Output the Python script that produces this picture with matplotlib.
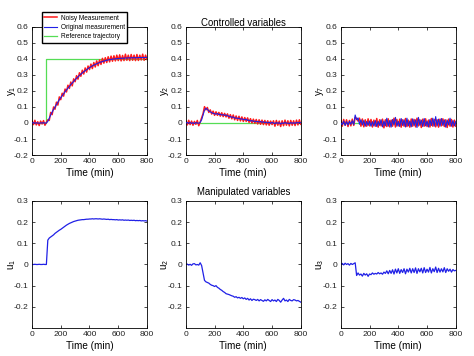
import numpy as np
import matplotlib
matplotlib.use('Agg')
import matplotlib.pyplot as plt

plt.rcParams['font.family'] = ['Liberation Sans', 'DejaVu Sans']
plt.rcParams['mathtext.default'] = 'regular'

# time axis, sampled every 10 min
t = np.arange(0, 801, 10)

# reference trajectories
ref_t = [0, 100, 100, 800]
ref_y1 = [0, 0, 0.4, 0.4]
ref_y2 = [0, 0, 0, 0]
ref_y7 = [0, 0, 0, 0]

# controlled variables: original measurement
y1_orig = [0.0, 0.002, -0.001, 0.001, 0.0, -0.002, 0.001, 0.0, 0.002, -0.001, 0.0,
           0.01, 0.03, 0.05, 0.068, 0.085, 0.10, 0.115, 0.13, 0.145, 0.158,
           0.17, 0.183, 0.195, 0.207, 0.218, 0.228, 0.24, 0.25, 0.26, 0.27,
           0.28, 0.288, 0.297, 0.305, 0.313, 0.32, 0.327, 0.333, 0.34, 0.346,
           0.351, 0.357, 0.362, 0.366, 0.37, 0.374, 0.378, 0.381, 0.384, 0.387,
           0.389, 0.392, 0.394, 0.396, 0.397, 0.399, 0.40, 0.401, 0.402, 0.403,
           0.404, 0.404, 0.405, 0.405, 0.406, 0.406, 0.407, 0.407, 0.407, 0.408,
           0.408, 0.408, 0.408, 0.409, 0.409, 0.409, 0.409, 0.409, 0.41, 0.41]
y1_noisy = [0.014, -0.01, 0.017, -0.012, 0.008, -0.016, 0.012, -0.006, 0.015, -0.014, 0.004,
            0.02, 0.016, 0.066, 0.052, 0.1, 0.086, 0.13, 0.112, 0.163, 0.146,
            0.186, 0.168, 0.212, 0.194, 0.236, 0.216, 0.256, 0.232, 0.276, 0.258,
            0.296, 0.274, 0.314, 0.292, 0.33, 0.306, 0.344, 0.318, 0.356, 0.334,
            0.368, 0.34, 0.378, 0.35, 0.388, 0.358, 0.394, 0.366, 0.404, 0.374,
            0.408, 0.378, 0.414, 0.382, 0.418, 0.386, 0.42, 0.388, 0.424, 0.39,
            0.426, 0.388, 0.422, 0.39, 0.43, 0.392, 0.424, 0.39, 0.428, 0.392,
            0.424, 0.39, 0.428, 0.391, 0.424, 0.394, 0.43, 0.392, 0.424, 0.398]

y2_orig = [0.0, 0.003, -0.002, 0.004, -0.003, 0.002, -0.004, 0.003, 0.0, -0.002, 0.004,
           0.02, 0.05, 0.08, 0.092, 0.085, 0.075, 0.07, 0.065, 0.06, 0.058,
           0.055, 0.06, 0.052, 0.055, 0.05, 0.052, 0.048, 0.05, 0.045, 0.042,
           0.04, 0.035, 0.038, 0.03, 0.032, 0.028, 0.03, 0.024, 0.026, 0.022,
           0.02, 0.024, 0.016, 0.018, 0.012, 0.015, 0.01, 0.012, 0.008, 0.01,
           0.006, 0.01, 0.004, 0.008, 0.002, 0.006, 0.0, 0.005, -0.002, 0.004,
           0.0, -0.004, 0.003, -0.002, 0.002, -0.006, 0.001, -0.003, 0.004, -0.002,
           0.0, -0.004, 0.003, -0.002, 0.002, -0.003, 0.004, 0.0, 0.003, 0.002]
y2_noisy = [0.014, -0.012, 0.017, -0.01, 0.012, -0.014, 0.01, -0.008, 0.016, -0.017, 0.006,
            0.032, 0.058, 0.102, 0.082, 0.097, 0.066, 0.082, 0.056, 0.074, 0.048,
            0.07, 0.048, 0.066, 0.043, 0.064, 0.04, 0.06, 0.038, 0.057, 0.03,
            0.052, 0.026, 0.05, 0.02, 0.044, 0.016, 0.042, 0.013, 0.038, 0.01,
            0.034, 0.01, 0.032, 0.004, 0.027, 0.0, 0.024, -0.002, 0.022, -0.006,
            0.02, -0.008, 0.018, -0.01, 0.016, -0.012, 0.014, -0.014, 0.012, -0.01,
            0.014, -0.02, 0.016, -0.014, 0.012, -0.022, 0.014, -0.017, 0.018, -0.014,
            0.014, -0.018, 0.016, -0.014, 0.014, -0.016, 0.018, -0.012, 0.02, -0.008]

y7_orig = [0.0, -0.01, 0.012, -0.015, 0.008, -0.012, 0.01, -0.008, 0.014, -0.01, 0.05,
           0.02, 0.032, -0.008, 0.02, -0.012, 0.015, -0.02, 0.01, -0.015, 0.012,
           -0.02, 0.008, -0.018, 0.015, -0.022, 0.01, -0.015, 0.02, -0.024, 0.012,
           -0.018, 0.03, -0.02, 0.015, -0.026, 0.022, -0.012, 0.035, -0.02, 0.01,
           -0.022, 0.028, -0.015, 0.02, -0.025, 0.03, -0.018, 0.012, -0.024, 0.026,
           -0.016, 0.02, -0.028, 0.035, -0.014, 0.018, -0.022, 0.028, -0.018, 0.012,
           -0.025, 0.022, -0.016, 0.03, -0.02, 0.04, -0.018, 0.024, -0.02, 0.028,
           -0.015, 0.02, -0.026, 0.018, -0.012, 0.03, -0.02, 0.015, -0.018, 0.01]
y7_noisy = [0.018, -0.02, 0.022, -0.014, 0.02, -0.022, 0.016, -0.018, 0.024, -0.015, 0.035,
            0.028, 0.012, 0.03, -0.02, 0.025, -0.024, 0.02, -0.02, 0.026, -0.018,
            0.022, -0.025, 0.018, -0.02, 0.028, -0.026, 0.02, -0.018, 0.024, -0.03,
            0.02, -0.022, 0.026, -0.024, 0.018, -0.02, 0.03, -0.025, 0.022, -0.018,
            0.024, -0.026, 0.02, -0.02, 0.028, -0.022, 0.018, -0.026, 0.025, -0.02,
            0.022, -0.024, 0.03, -0.018, 0.02, -0.028, 0.024, -0.02, 0.026, -0.022,
            0.018, -0.025, 0.028, -0.02, 0.022, -0.024, 0.02, -0.026, 0.024, -0.018,
            0.026, -0.022, 0.02, -0.028, 0.024, -0.02, 0.022, -0.025, 0.018, -0.02]

# manipulated variables
u1 = [0.0, 0.0, 0.001, 0.0, 0.0, 0.001, 0.0, 0.0, 0.001, 0.0, 0.0,
      0.115, 0.125, 0.13, 0.135, 0.14, 0.147, 0.152, 0.157, 0.162, 0.166,
      0.171, 0.176, 0.181, 0.186, 0.19, 0.194, 0.197, 0.2, 0.203, 0.205,
      0.207, 0.209, 0.21, 0.211, 0.212, 0.212, 0.213, 0.214, 0.214, 0.215,
      0.215, 0.216, 0.215, 0.216, 0.216, 0.215, 0.216, 0.215, 0.214, 0.215,
      0.214, 0.213, 0.214, 0.212, 0.213, 0.212, 0.212, 0.211, 0.212, 0.21,
      0.211, 0.21, 0.211, 0.209, 0.21, 0.209, 0.21, 0.208, 0.209, 0.208,
      0.209, 0.207, 0.208, 0.207, 0.208, 0.206, 0.207, 0.206, 0.207, 0.205]
u2 = [0.0, 0.002, -0.003, 0.001, -0.004, 0.003, 0.004, -0.002, 0.0, -0.003, 0.008,
      -0.005, -0.04, -0.075, -0.082, -0.085, -0.088, -0.094, -0.098, -0.1, -0.104,
      -0.1, -0.108, -0.112, -0.118, -0.122, -0.128, -0.132, -0.138, -0.14, -0.142,
      -0.145, -0.148, -0.15, -0.155, -0.152, -0.158, -0.155, -0.16, -0.156, -0.162,
      -0.158, -0.165, -0.16, -0.168, -0.162, -0.17, -0.164, -0.166, -0.17, -0.165,
      -0.172, -0.166, -0.17, -0.174, -0.167, -0.172, -0.165, -0.17, -0.175, -0.166,
      -0.172, -0.168, -0.175, -0.165, -0.17, -0.178, -0.168, -0.16, -0.172, -0.168,
      -0.175, -0.165, -0.17, -0.172, -0.166, -0.168, -0.172, -0.17, -0.174, -0.178]
u3 = [0.0, 0.005, -0.002, 0.006, 0.0, 0.004, -0.003, 0.005, 0.0, 0.004, 0.008,
      -0.052, -0.04, -0.05, -0.045, -0.055, -0.042, -0.05, -0.044, -0.056, -0.045,
      -0.048, -0.04, -0.046, -0.042, -0.045, -0.038, -0.044, -0.04, -0.046, -0.036,
      -0.042, -0.03, -0.044, -0.028, -0.042, -0.025, -0.045, -0.022, -0.04, -0.02,
      -0.042, -0.024, -0.038, -0.02, -0.044, -0.022, -0.036, -0.018, -0.04, -0.02,
      -0.038, -0.016, -0.042, -0.02, -0.035, -0.018, -0.04, -0.015, -0.038, -0.022,
      -0.036, -0.014, -0.04, -0.02, -0.034, -0.012, -0.038, -0.018, -0.036, -0.02,
      -0.035, -0.015, -0.038, -0.02, -0.032, -0.022, -0.036, -0.024, -0.03, -0.028]

RED = '#ff1a1a'
BLUE = '#2020e6'
GREEN = '#55dd55'

fig = plt.figure(figsize=(4.74, 3.56), dpi=100)
lefts = [0.0675, 0.392, 0.719]
w = 0.2426

def style(ax, ylim, yticks, ylab):
    ax.set_xlim(0, 800)
    ax.set_xticks([0, 200, 400, 600, 800])
    ax.set_ylim(*ylim)
    ax.set_yticks(yticks)
    ax.set_yticklabels([f'{v:g}' for v in yticks])
    ax.tick_params(direction='in', length=2, width=0.5, labelsize=6.1,
                   top=True, right=True, pad=2.5, labelcolor='#222222')
    for s in ax.spines.values():
        s.set_linewidth(0.6)
    ax.set_xlabel('Time (min)', fontsize=7.2, labelpad=1.5)
    ax.set_ylabel(ylab, fontsize=7)
    ax.yaxis.set_label_coords(-0.125, 0.5)

top_ticks = [-0.2, -0.1, 0, 0.1, 0.2, 0.3, 0.4, 0.5, 0.6]
bot_ticks = [-0.2, -0.1, 0, 0.1, 0.2, 0.3]

ctrl = [(y1_noisy, y1_orig, ref_y1, 'y$_1$'),
        (y2_noisy, y2_orig, ref_y2, 'y$_2$'),
        (y7_noisy, y7_orig, ref_y7, 'y$_7$')]
top_axes = []
for i, (noisy, orig, ref, lab) in enumerate(ctrl):
    ax = fig.add_axes([lefts[i], 0.5646, w, 0.3596])
    ax.plot(ref_t, ref, color=GREEN, lw=0.9, zorder=1, label='Reference trajectory')
    ax.plot(t, noisy, color=RED, lw=1.1, zorder=2, label='Noisy Measurement')
    ax.plot(t, orig, color=BLUE, lw=0.8, zorder=3, label='Original measurement')
    style(ax, (-0.2, 0.6), top_ticks, lab)
    top_axes.append(ax)

h, l = top_axes[0].get_legend_handles_labels()
order = [1, 2, 0]
fig.legend([h[k] for k in order], [l[k] for k in order],
           loc='upper left', bbox_to_anchor=(0.088, 0.965), fontsize=4.7,
           frameon=True, fancybox=False, edgecolor='black', framealpha=1,
           handlelength=2.0, borderpad=0.35, labelspacing=0.35, handletextpad=0.6,
           borderaxespad=0)
top_axes[1].set_title('Controlled variables', fontsize=6.9, pad=1)

manip = [(u1, 'u$_1$'), (u2, 'u$_2$'), (u3, 'u$_3$')]
for i, (u, lab) in enumerate(manip):
    ax = fig.add_axes([lefts[i], 0.0787, w, 0.3567])
    ax.plot(t, u, color=BLUE, lw=0.9)
    style(ax, (-0.3, 0.3), bot_ticks, lab)
    if i == 1:
        ax.set_title('Manipulated variables', fontsize=6.9, pad=4)

fig.savefig('out.png', dpi=100)
